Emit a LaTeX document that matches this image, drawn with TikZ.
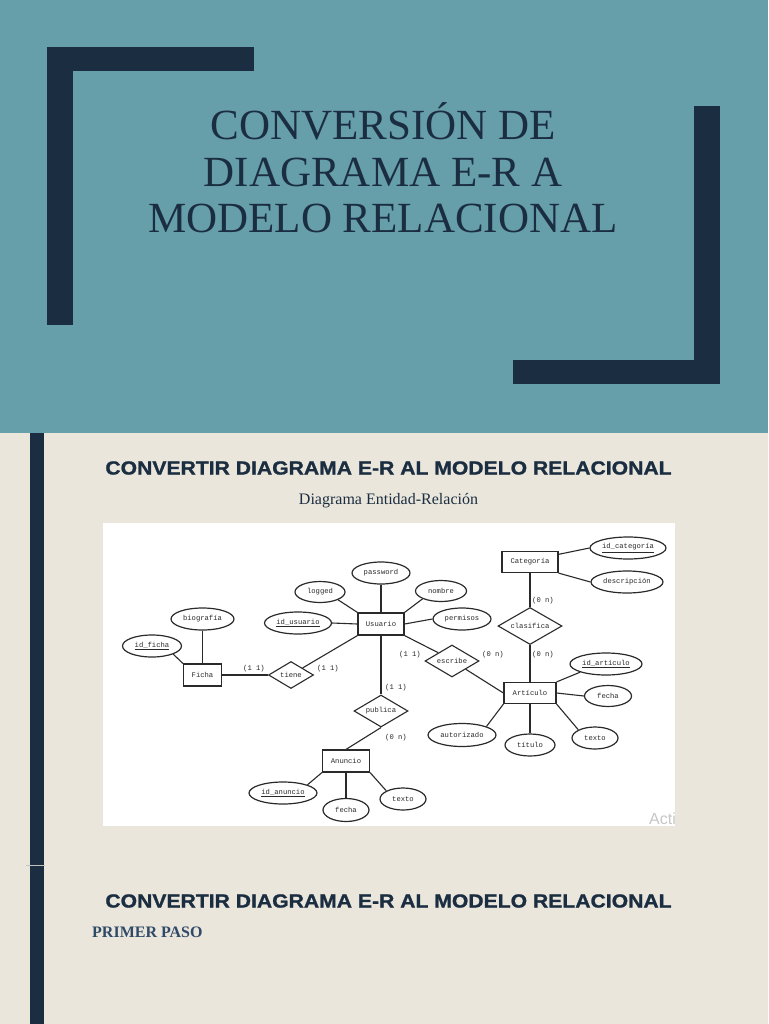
\documentclass[tikz,border=0pt]{standalone}
\usepackage{fontspec}
\setmainfont{Liberation Serif}
\setsansfont{Liberation Sans}
\setmonofont{Liberation Mono}
\newfontfamily\headfont[FakeStretch=1.113,FakeBold=1.2]{Liberation Sans}
\usetikzlibrary{shapes.geometric}

\definecolor{navy}{HTML}{1B2E41}
\definecolor{teal}{HTML}{669EAA}
\definecolor{cream}{HTML}{EBE6DC}
\definecolor{ink}{HTML}{2A2A2A}
\definecolor{steel}{HTML}{2F4A68}

\tikzset{
    label font/.style={font=\ttfamily\fontsize{7.2}{9}\selectfont, text=ink},
    entity/.style={draw=ink, line width=1.2pt, rectangle, inner sep=0pt, label font},
    relation/.style={draw=ink, line width=1.1pt, diamond, shape aspect=1.6, inner sep=0pt, label font},
    attribute/.style={draw=ink, line width=1.2pt, ellipse, inner sep=0pt, label font},
    cardinality/.style={inner sep=0pt, label font},
    link/.style={draw=ink, line width=1.1pt},
    heading/.style={font=\headfont\bfseries\fontsize{19}{22}\selectfont, text=navy, inner sep=0pt}
}

\begin{document}
\begin{tikzpicture}[x=1pt, y=-1pt]

    \useasboundingbox (0,0) rectangle (768,1024);

    % backgrounds
    \fill[cream] (0,0) rectangle (768,1024);
    \fill[teal] (0,0) rectangle (768,433);
    \fill[white] (103,523) rectangle (675,826);

    % brackets and side bar
    \fill[navy] (47,47) rectangle (254,71);
    \fill[navy] (47,47) rectangle (73,325);
    \fill[navy] (694,106) rectangle (720,384);
    \fill[navy] (513,360) rectangle (720,384);
    \fill[navy] (30,433) rectangle (44,1024);
    \draw[cream!80!navy, line width=0.6pt] (26,865) -- (45,865);

    % texts of the slides
    \node[align=center, text=navy, inner sep=0pt, font=\fontsize{43}{46.5}\selectfont] (title) at (383,168)
        {CONVERSIÓN DE\\DIAGRAMA E-R A\\MODELO RELACIONAL};
    \node[heading] (headA) at (388.5,468) {CONVERTIR DIAGRAMA E-R AL MODELO RELACIONAL};
    \node[heading] (headB) at (388.5,901) {CONVERTIR DIAGRAMA E-R AL MODELO RELACIONAL};
    \node[text=navy, inner sep=0pt, font=\fontsize{16}{18}\selectfont] (sub) at (388.5,501) {Diagrama Entidad-Relación};
    \node[text=steel, inner sep=0pt, anchor=west, font=\bfseries\fontsize{16}{18}\selectfont] (paso) at (92,932.5) {PRIMER PASO};

    % entities
    \node[entity, minimum width=46pt, minimum height=22pt] (Usuario) at (381,624) {Usuario};
    \node[entity, minimum width=38pt, minimum height=22pt] (Ficha) at (202.5,675) {Ficha};
    \node[entity, minimum width=47pt, minimum height=22pt] (Anuncio) at (346,761) {Anuncio};
    \node[entity, minimum width=56pt, minimum height=21pt] (Categoria) at (530,562) {Categoría};
    \node[entity, minimum width=52pt, minimum height=21pt] (Articulo) at (530,693) {Artículo};

    % relations
    \node[relation, minimum width=45pt, minimum height=27pt] (tiene) at (291,675) {tiene};
    \node[relation, minimum width=54pt, minimum height=32pt] (publica) at (381,711) {publica};
    \node[relation, minimum width=54pt, minimum height=32pt] (escribe) at (452,661) {escribe};
    \node[relation, minimum width=64pt, minimum height=37pt] (clasifica) at (530,626) {clasifica};

    % attributes
    \node[attribute, minimum width=63pt, minimum height=22pt] (biografia) at (202.5,619) {biografía};
    \node[attribute, minimum width=59pt, minimum height=22pt] (idficha) at (152,646) {\underline{id\_ficha}};
    \node[attribute, minimum width=50pt, minimum height=21pt] (logged) at (320,592) {logged};
    \node[attribute, minimum width=58pt, minimum height=22pt] (password) at (381,573) {password};
    \node[attribute, minimum width=67pt, minimum height=22pt] (idusuario) at (298,623) {\underline{id\_usuario}};
    \node[attribute, minimum width=51pt, minimum height=21pt] (nombre) at (441,591) {nombre};
    \node[attribute, minimum width=58pt, minimum height=22pt] (permisos) at (462,619) {permisos};
    \node[attribute, minimum width=68pt, minimum height=22pt] (idanuncio) at (283,793) {\underline{id\_anuncio}};
    \node[attribute, minimum width=46pt, minimum height=23pt] (fechaA) at (346,810) {fecha};
    \node[attribute, minimum width=46pt, minimum height=22pt] (textoA) at (403,799) {texto};
    \node[attribute, minimum width=76pt, minimum height=22pt] (idcategoria) at (628,548) {\underline{id\_categoría}};
    \node[attribute, minimum width=72pt, minimum height=22pt] (descripcion) at (627,582) {descripción};
    \node[attribute, minimum width=72pt, minimum height=22pt] (idarticulo) at (606,664) {\underline{id\_artículo}};
    \node[attribute, minimum width=47pt, minimum height=21pt] (fechaB) at (608,696) {fecha};
    \node[attribute, minimum width=46pt, minimum height=22pt] (textoB) at (595,738) {texto};
    \node[attribute, minimum width=50pt, minimum height=22pt] (titulo) at (530,745) {título};
    \node[attribute, minimum width=68pt, minimum height=23pt] (autorizado) at (462,735) {autorizado};

    % connectors
    \draw[link] (password.south) -- (Usuario.north);
    \draw[link] (logged.south east) -- (Usuario.north west);
    \draw[link] (idusuario.east) -- (Usuario.west);
    \draw[link] (nombre.south west) -- (Usuario.north east);
    \draw[link] (permisos.west) -- (Usuario.east);
    \draw[link] (Usuario.south east) -- (escribe.north west);
    \draw[link] (escribe.south east) -- (Articulo.west);
    \draw[link] (Usuario.south west) -- (tiene.north east);
    \draw[link, line width=1.5pt] (Ficha.east) -- (tiene.west);
    \draw[link] (Ficha.north) -- (biografia.south);
    \draw[link] (Ficha.north west) -- (idficha.south east);
    \draw[link] (Usuario.south) -- (publica.north);
    \draw[link] (publica.south) -- (Anuncio.north);
    \draw[link] (Anuncio.south west) -- (idanuncio.north east);
    \draw[link] (Anuncio.south) -- (fechaA.north);
    \draw[link] (Anuncio.south east) -- (textoA.north west);
    \draw[link] (Categoria.15) -- (idcategoria.west);
    \draw[link] (Categoria.south east) -- (descripcion.west);
    \draw[link, line width=1.3pt] (Categoria.south) -- (clasifica.north);
    \draw[link, line width=1.3pt] (clasifica.south) -- (Articulo.north);
    \draw[link] (Articulo.north east) -- (idarticulo.south west);
    \draw[link] (Articulo.east) -- (fechaB.west);
    \draw[link] (Articulo.south east) -- (textoB.north west);
    \draw[link] (Articulo.south) -- (titulo.north);
    \draw[link] (Articulo.south west) -- (autorizado.north east);

    % cardinalities
    \node[cardinality] (c1) at (254,669) {(1 1)};
    \node[cardinality] (c2) at (328,669) {(1 1)};
    \node[cardinality] (c3) at (396,688) {(1 1)};
    \node[cardinality] (c4) at (396,738) {(0 n)};
    \node[cardinality] (c5) at (410,655) {(1 1)};
    \node[cardinality] (c6) at (493,655) {(0 n)};
    \node[cardinality] (c7) at (543,601) {(0 n)};
    \node[cardinality] (c8) at (543,655) {(0 n)};

    % watermark cut by the picture edge
    \begin{scope}
        \clip (103,523) rectangle (675,826);
        \node[anchor=west, inner sep=0pt, text=black!22, font=\sffamily\fontsize{16}{18}\selectfont] (acti) at (649,819) {Acti};
    \end{scope}

\end{tikzpicture}
\end{document}
